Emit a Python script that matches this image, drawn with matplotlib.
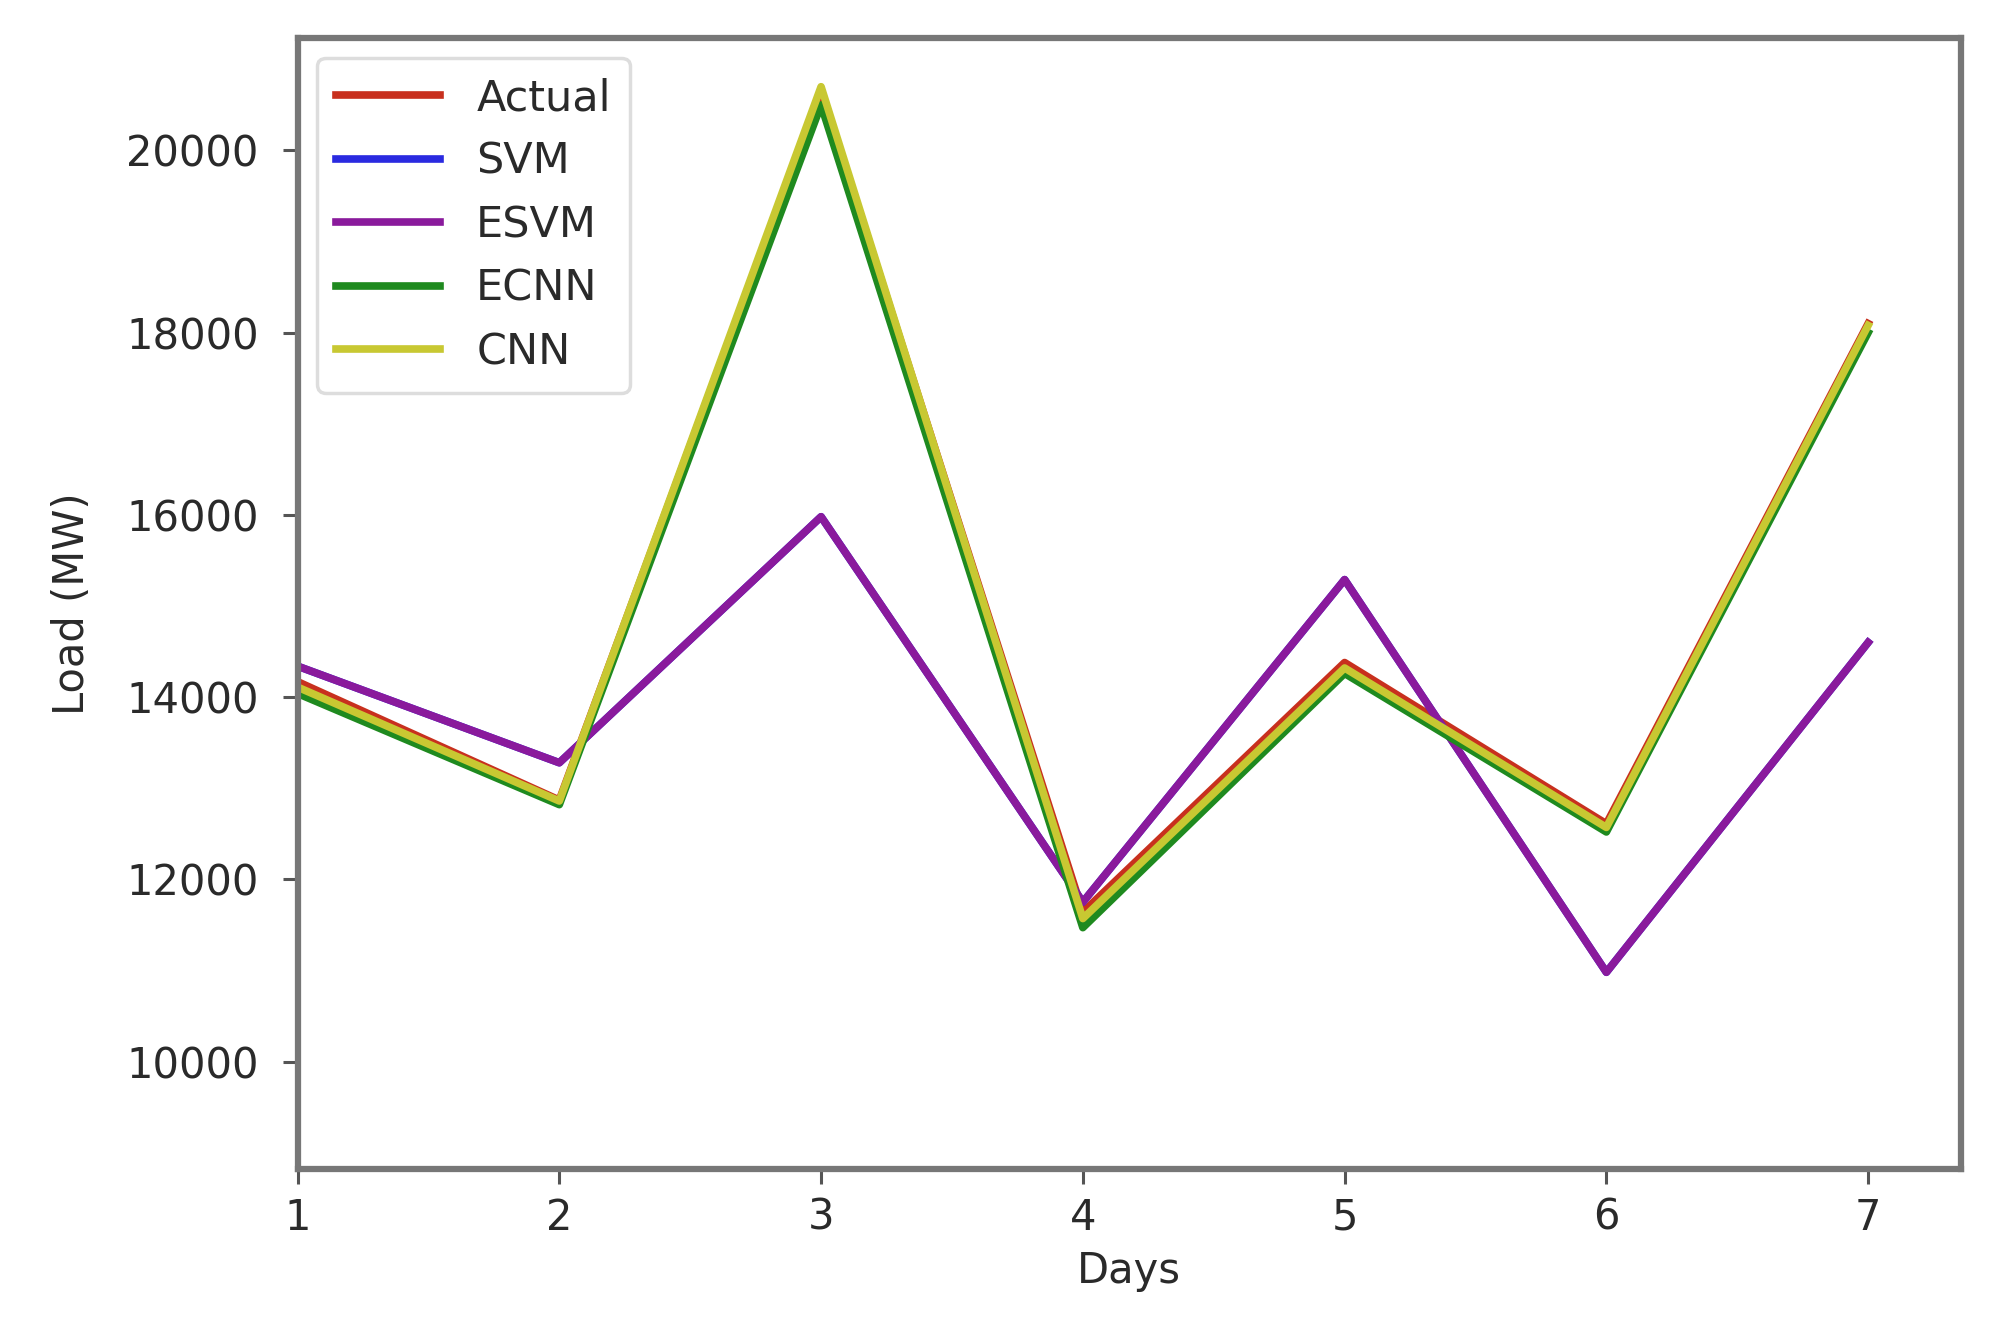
import matplotlib.pyplot as plt

# Days on the x axis
days = [1, 2, 3, 4, 5, 6, 7]

# Load values (MW)
actual = [14170, 12870, 20650, 11640, 14380, 12610, 18100]
svm = [14340, 13280, 15980, 11750, 15290, 10980, 14600]
esvm = [14340, 13280, 15980, 11750, 15290, 10980, 14600]
ecnn = [14040, 12820, 20500, 11470, 14260, 12520, 18000]
cnn = [14110, 12860, 20700, 11570, 14320, 12570, 18080]

labels = ['Actual', 'SVM', 'ESVM', 'ECNN', 'CNN']
colors = ['#c8301e', '#2a2ae0', '#8a1a9c', '#1f8a1f', '#c8c832']

fig = plt.figure(figsize=(19.97, 13.24), dpi=100)
ax = fig.add_axes([0.149, 0.117, 0.833, 0.854])

for vals, lab, col in zip([actual, svm, esvm, ecnn, cnn], labels, colors):
    ax.plot(days, vals, color=col, linewidth=5.5, label=lab)

ax.set_xlim(1, 7.355)
ax.set_ylim(8820, 21230)
ax.set_xticks(days)
ax.set_yticks([10000, 12000, 14000, 16000, 18000, 20000])

text_col = '#2a2a2a'
ax.tick_params(axis='both', labelsize=30, length=11, width=2.2,
               colors='#555555', labelcolor=text_col, pad=9)
ax.tick_params(axis='y', pad=17)
for sp in ax.spines.values():
    sp.set_linewidth(4.5)
    sp.set_color('#777777')

ax.set_xlabel('Days', fontsize=30, color=text_col, labelpad=8)
ax.set_ylabel('Load (MW)', fontsize=30, color=text_col, labelpad=24)

leg = ax.legend(loc='upper left', fontsize=31, handlelength=2.4,
                handletextpad=0.85, labelspacing=0.5,
                borderaxespad=0.45, borderpad=0.45, framealpha=1)
leg.get_frame().set_edgecolor('#dddddd')
leg.get_frame().set_linewidth(2.5)
for t in leg.get_texts():
    t.set_color(text_col)

plt.savefig('out.png', dpi=100)
